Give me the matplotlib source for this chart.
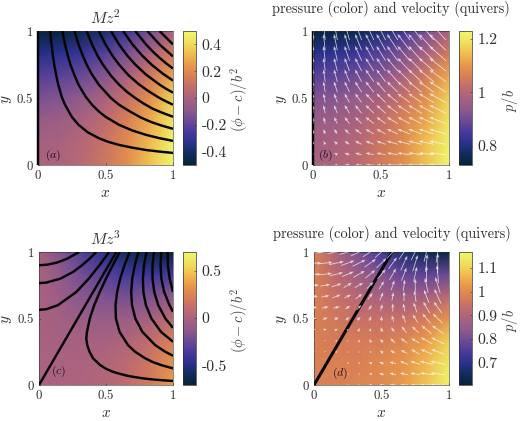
import matplotlib
matplotlib.use('Agg')
import matplotlib.pyplot as plt
import numpy as np
from matplotlib.colors import LinearSegmentedColormap

plt.rcParams['font.family'] = ['cmr10', 'Liberation Serif', 'DejaVu Serif']
plt.rcParams['mathtext.fontset'] = 'cm'
plt.rcParams['axes.unicode_minus'] = False

W, H = 520, 421

THERMAL = ['#04233a', '#122c5c', '#2a318f', '#4a3a9c', '#6d4b94', '#8f5a8c', '#a9627f',
           '#c26d6c', '#d98054', '#e8984a', '#f0bd50', '#f0e05e', '#eef66c']

GX = [0, 1/6, 2/6, 3/6, 4/6, 5/6, 1]
GY = [0, 1/6, 2/6, 3/6, 4/6, 5/6, 1]

FIELD_A = [[0, .01, .06, .13, .22, .35, .50],
           [-.01, 0, .04, .11, .21, .33, .49],
           [-.06, -.04, 0, .07, .17, .29, .44],
           [-.13, -.11, -.07, 0, .10, .22, .38],
           [-.22, -.21, -.17, -.10, 0, .13, .28],
           [-.35, -.33, -.29, -.22, -.13, 0, .15],
           [-.50, -.49, -.44, -.38, -.28, -.15, 0]]
FIELD_B = [[.98, .99, 1.01, 1.05, 1.09, 1.15, 1.23],
           [.97, .98, 1.0, 1.04, 1.08, 1.15, 1.22],
           [.95, .96, .98, 1.02, 1.07, 1.12, 1.2],
           [.92, .93, .95, .98, 1.03, 1.09, 1.17],
           [.87, .88, .9, .93, .98, 1.05, 1.12],
           [.81, .82, .84, .87, .92, .98, 1.05],
           [.73, .74, .76, .79, .84, .91, .98]]
FIELD_C = [[0, .002, .013, .044, .104, .203, .35],
           [0, -.003, .003, .029, .085, .179, .32],
           [0, -.018, -.026, -.014, .026, .106, .233],
           [0, -.042, -.075, -.087, -.071, -.016, .088],
           [0, -.076, -.143, -.189, -.207, -.186, -.117],
           [0, -.12, -.23, -.32, -.38, -.405, -.379],
           [0, -.173, -.337, -.481, -.596, -.672, -.70]]
FIELD_D = [[.98, .98, .99, 1.0, 1.03, 1.08, 1.16],
           [.98, .98, .98, 1.0, 1.02, 1.07, 1.14],
           [.98, .97, .97, .97, .99, 1.03, 1.1],
           [.98, .96, .94, .94, .94, .97, 1.02],
           [.98, .94, .91, .88, .87, .88, .92],
           [.98, .92, .86, .82, .78, .77, .79],
           [.98, .89, .81, .73, .67, .63, .62]]

LINES_A = [
    [(0, 0), (0, 1)],
    [(.09, 1), (.095, .95), (.1, .9), (.11, .82), (.12, .75), (.135, .67), (.15, .6), (.175, .51), (.2, .45), (.25, .36), (.3, .3), (.37, .243), (.45, .2), (.52, .173), (.6, .15), (.7, .129), (.8, .112), (.9, .1), (1, .09)],
    [(.18, 1), (.2, .9), (.22, .82), (.24, .75), (.27, .67), (.3, .6), (.35, .514), (.4, .45), (.45, .4), (.5, .36), (.6, .3), (.7, .257), (.8, .225), (.9, .2), (1, .18)],
    [(.27, 1), (.3, .9), (.33, .82), (.36, .75), (.4, .675), (.45, .6), (.54, .5), (.6, .45), (.68, .4), (.76, .355), (.84, .32), (.92, .293), (1, .27)],
    [(.36, 1), (.4, .9), (.44, .818), (.48, .75), (.54, .667), (.6, .6), (.66, .545), (.72, .5), (.78, .46), (.85, .42), (.92, .39), (1, .36)],
    [(.45, 1), (.5, .9), (.55, .818), (.6, .75), (.67, .67), (.75, .6), (.82, .55), (.9, .5), (.95, .474), (1, .45)],
    [(.54, 1), (.6, .9), (.66, .818), (.72, .75), (.8, .675), (.9, .6), (.95, .568), (1, .54)],
    [(.63, 1), (.7, .9), (.77, .818), (.84, .75), (.92, .685), (1, .63)],
    [(.72, 1), (.8, .9), (.85, .847), (.9, .8), (.95, .758), (1, .72)],
    [(.81, 1), (.9, .9), (1, .81)],
    [(.9, 1), (1, .9)],
]
ZERO_LINE = [(0, 0), (.577, 1)]
LINES_C = [
    ZERO_LINE,
    [(.603, 1), (.55, .9), (.5, .8), (.454, .7), (.412, .6), (.379, .5), (.358, .4), (.353, .35), (.36, .3), (.377, .25), (.404, .2), (.456, .15), (.5, .122), (.55, .1), (.6, .085), (.656, .07), (.7, .062), (.775, .05), (.866, .04), (1, .03)],
    [(.676, 1), (.638, .9), (.606, .8), (.583, .7), (.571, .6), (.574, .5), (.601, .4), (.664, .3), (.717, .25), (.794, .2), (.85, .172), (.911, .15), (1, .125)],
    [(.742, 1), (.715, .9), (.696, .8), (.688, .7), (.694, .6), (.719, .5), (.771, .4), (.867, .3), (.942, .25), (1, .22)],
    [(.802, 1), (.784, .9), (.775, .8), (.779, .7), (.798, .6), (.839, .5), (.91, .4), (1, .325)],
    [(.858, 1), (.847, .9), (.847, .8), (.86, .7), (.89, .6), (.943, .5), (1, .43)],
    [(.912, 1), (.907, .9), (.913, .8), (.934, .7), (.974, .6), (1, .55)],
    [(.96, 1), (.962, .9), (.975, .8), (1, .7)],
    [(0, .565), (.055, .57), (.141, .6), (.279, .7), (.372, .8), (.451, .9), (.523, 1)],
    [(0, .766), (.054, .77), (.161, .8), (.254, .85), (.321, .9), (.378, .95), (.428, 1)],
    [(0, .9), (.063, .905), (.133, .92), (.211, .95), (.30, 1)],
]
LINES_D = [ZERO_LINE]

QX = [i / 12 for i in range(12)]
QY = [j / 12 for j in range(13)]
U_B_COL = [0, -.01, -.02, -.03, -.04, -.05, -.055, -.065, -.075, -.08, -.09, -.10]
V_B_ROW = [0, .01, .02, .03, .04, .05, .055, .065, .075, .08, .09, .10, .11]
U_D = [[0, 0, 0, -1, -1, -2, -3, -4, -5, -6, -8, -9],
       [0, 0, 0, -1, -1, -2, -3, -4, -5, -6, -8, -9],
       [0, 0, 0, -1, -1, -2, -3, -4, -5, -6, -8, -9],
       [1, 1, 1, 0, 0, -1, -2, -3, -4, -5, -7, -8],
       [1, 1, 1, 0, 0, -1, -2, -3, -4, -5, -7, -8],
       [2, 2, 2, 1, 1, 0, -1, -2, -3, -4, -6, -7],
       [3, 3, 3, 2, 2, 1, 0, -1, -2, -3, -5, -6],
       [4, 4, 4, 3, 3, 2, 1, 0, -1, -2, -4, -5],
       [5, 5, 5, 4, 4, 3, 2, 1, 0, -1, -3, -4],
       [6, 6, 6, 5, 5, 4, 3, 2, 1, 0, -2, -3],
       [8, 8, 8, 7, 7, 6, 5, 4, 3, 2, 0, -1],
       [9, 9, 9, 8, 8, 7, 6, 5, 4, 3, 1, 0],
       [11, 11, 11, 10, 10, 9, 8, 7, 6, 5, 3, 2]]
V_D = [[0] * 12,
       [0, 0, 0, 0, 0, 0, 1, 1, 1, 1, 1, 1],
       [0, 0, 0, 1, 1, 1, 1, 1, 2, 2, 2, 2],
       [0, 0, 1, 1, 1, 1, 2, 2, 2, 3, 3, 3],
       [0, 0, 1, 1, 2, 2, 2, 3, 3, 3, 4, 4],
       [0, 0, 1, 1, 2, 2, 3, 3, 4, 4, 5, 5],
       [0, 1, 1, 2, 2, 3, 3, 4, 5, 5, 6, 6],
       [0, 1, 1, 2, 3, 3, 4, 5, 5, 6, 7, 7],
       [0, 1, 2, 2, 3, 4, 5, 5, 6, 7, 8, 9],
       [0, 1, 2, 3, 3, 4, 5, 6, 7, 8, 9, 10],
       [0, 1, 2, 3, 4, 5, 6, 7, 8, 9, 10, 11],
       [0, 1, 2, 3, 4, 5, 6, 7, 9, 10, 11, 12],
       [0, 1, 2, 3, 5, 6, 7, 8, 9, 10, 12, 13]]

XT = [0, 0.5, 1]
XTL = ['0', '0.5', '1']
CT_A = [-.4, -.2, 0, .2, .4]
CTL_A = ['-0.4', '-0.2', '0', '0.2', '0.4']
CT_B = [.8, 1, 1.2]
CTL_B = ['0.8', '1', '1.2']
CT_C = [-.5, 0, .5]
CTL_C = ['-0.5', '0', '0.5']
CT_D = [.7, .8, .9, 1, 1.1]
CTL_D = ['0.7', '0.8', '0.9', '1', '1.1']

cmap = LinearSegmentedColormap.from_list('thermal_like', THERMAL)
fig = plt.figure(figsize=(W / 100, H / 100), dpi=100)
INK = '#2e2e2e'


def box(x0, y0, x1, y1):
    return [x0 / W, 1 - y1 / H, (x1 - x0) / W, (y1 - y0) / H]


def panel(rect, crect, field, vmin, vmax, title, title_fs, title_pad, title_x, tag, tagxy, clabel,
          cticks, cticklabels, clabx, ylabx, lines=(), quiv=None, lw=1.75):
    ax = fig.add_axes(box(*rect))
    m = ax.pcolormesh(GX, GY, np.array(field), cmap=cmap, vmin=vmin, vmax=vmax,
                      shading='gouraud', rasterized=True)
    ax.set_xlim(0, 1)
    ax.set_ylim(0, 1)
    if quiv is not None:
        ax.quiver(QX, QY, quiv[0], quiv[1], angles='xy', scale_units='xy', scale=.82,
                  pivot='mid', color='white', alpha=.72, width=.006,
                  headwidth=3.8, headlength=5, headaxislength=4.5, minlength=.8,
                  zorder=4)
    for ln in lines:
        pts = np.array(ln)
        ax.plot(pts[:, 0], pts[:, 1], color='#050505', lw=lw, solid_capstyle='butt',
                clip_on=(pts[:, 0].max() > 0), zorder=3)
    ax.set_xticks(XT, XTL, fontsize=9.3, color=INK)
    ax.set_yticks(XT, XTL, fontsize=9.3, color=INK)
    ax.tick_params(length=1.2, width=.4, direction='in', pad=3.5, color=INK)
    for s in ax.spines.values():
        s.set_linewidth(.4)
        s.set_color(INK)
    ax.set_xlabel(r'$x$', fontsize=11, labelpad=3, color=INK)
    fig.text(ylabx / W, 1 - ((rect[1] + rect[3]) / 2 + 1) / H, r'$y$', rotation=90, fontsize=11,
             ha='center', va='center', color=INK)
    ax.set_title(title, fontsize=title_fs, pad=title_pad, x=title_x, color=INK)
    ax.text(tagxy[0], tagxy[1], tag, fontsize=8.5, color='#1c1020', ha='left', va='center', zorder=5)
    cax = fig.add_axes(box(*crect))
    cb = fig.colorbar(m, cax=cax)
    cb.set_ticks(cticks, labels=cticklabels, fontsize=11.3, color=INK)
    cax.tick_params(length=1.5, width=.4, direction='in', pad=4, color=INK)
    cb.outline.set_linewidth(.5)
    cb.outline.set_edgecolor(INK)
    fig.text(clabx / W, 1 - ((rect[1] + rect[3]) / 2 + 2) / H, clabel, rotation=90, fontsize=10.5,
             ha='center', va='center', color='#444444')


ROW1 = (31, 165)
ROW2 = (252, 385)
PRESS = 'pressure (color) and velocity (quivers)'

panel((38, ROW1[0], 173, ROW1[1]), (183, ROW1[0], 196, ROW1[1]), FIELD_A, -.5, .5,
      r'$Mz^2$', 11.5, 5, .5, r'$(a)$', (.05, .07), r'$(\phi-c)/b^2$', CT_A, CTL_A, 239, 7, lines=LINES_A)
panel((313, ROW1[0], 449, ROW1[1]), (459, ROW1[0], 472, ROW1[1]), FIELD_B, .729, 1.229,
      PRESS, 10.3, 13, .574, r'$(b)$', (.04, .07), r'$p/b$', CT_B, CTL_B, 510, 282, lines=[[(0, 0), (0, 1)]],
      quiv=(np.tile(U_B_COL, (len(QY), 1)), np.tile(np.array(V_B_ROW)[:, None], (1, len(QX)))))
panel((39, ROW2[0], 173, ROW2[1]), (183, ROW2[0], 196, ROW2[1]), FIELD_C, -.71, .70,
      r'$Mz^3$', 11.5, 5, .5, r'$(c)$', (.09, .1), r'$(\phi-c)/b^2$', CT_C, CTL_C, 239, 7, lines=LINES_C)
panel((314, ROW2[0], 449, ROW2[1]), (459, ROW2[0], 472, ROW2[1]), FIELD_D, .604, 1.168,
      PRESS, 10.3, 10, .574, r'$(d)$', (.13, .09), r'$p/b$', CT_D, CTL_D, 510, 282, lines=LINES_D,
      quiv=(np.array(U_D) / 100, np.array(V_D) / 100), lw=2.2)

fig.savefig('out.png', dpi=100)
